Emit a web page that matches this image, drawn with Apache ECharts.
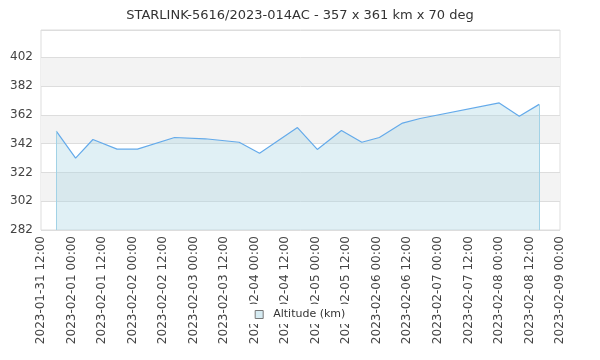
<!DOCTYPE html>
<html>
<head>
<meta charset="utf-8">
<script src="https://cdn.jsdelivr.net/npm/echarts@6/dist/echarts.min.js"></script>
<style>
  html, body { margin: 0; padding: 0; background: #fff; }
  #main { width: 600px; height: 360px; }
</style>
</head>
<body>
<div id="main"></div>
<script>
// readings taken off the plot (UTC)
var times = [
  '2023-01-31T18:00Z', '2023-02-01T01:36Z', '2023-02-01T08:24Z', '2023-02-01T17:54Z',
  '2023-02-02T01:54Z', '2023-02-02T16:30Z', '2023-02-03T04:30Z', '2023-02-03T17:54Z',
  '2023-02-04T01:54Z', '2023-02-04T16:48Z', '2023-02-05T00:36Z', '2023-02-05T10:06Z',
  '2023-02-05T18:06Z', '2023-02-06T01:00Z', '2023-02-06T10:06Z', '2023-02-06T17:00Z',
  '2023-02-08T00:06Z', '2023-02-08T08:00Z', '2023-02-08T15:48Z'
];
var altitude = [
  350.7, 332.0, 344.9, 338.2,
  338.2, 346.3, 345.4, 343.0,
  335.4, 353.2, 338.0, 351.2,
  343.0, 346.3, 356.3, 359.5,
  370.3, 361.1, 369.3
];
var xStart = '2023-01-31T12:00Z';
var xEnd = '2023-02-09T00:00Z';
var yMin = 282, yMax = 421, yStep = 20;
var seriesName = 'Altitude (km)';
var titleText = 'STARLINK-5616/2023-014AC - 357 x 361 km x 70 deg';

var HALF_DAY = 12 * 3600 * 1000;
var pts = times.map(function (t, i) { return [Date.parse(t), altitude[i]]; });
var last = pts.length - 1;

function pad(n) { return n < 10 ? '0' + n : '' + n; }
function fmt(v) {
  var d = new Date(v);
  return d.getUTCFullYear() + '-' + pad(d.getUTCMonth() + 1) + '-' + pad(d.getUTCDate()) +
    ' ' + pad(d.getUTCHours()) + ':' + pad(d.getUTCMinutes());
}

var chart = echarts.init(document.getElementById('main'));
var option = {
  animation: false,
  backgroundColor: '#fff',
  textStyle: { fontFamily: 'DejaVu Sans' },
  title: {
    text: titleText,
    left: 'center',
    top: 4,
    textStyle: { fontSize: 13, fontWeight: 'normal', color: '#333', fontFamily: 'DejaVu Sans' }
  },
  legend: {
    data: [seriesName],
    left: 'center',
    top: 304,
    padding: [5, 10, 4, 10],
    backgroundColor: '#fff',
    icon: 'rect',
    itemWidth: 8,
    itemHeight: 8,
    itemStyle: { color: '#d6ebf2', borderColor: '#777', borderWidth: 1 },
    textStyle: { fontSize: 11, color: '#333', padding: [0, 0, 0, 5] }
  },
  grid: {
    left: 41, right: 40, top: 30, bottom: 130,
    show: true, borderColor: '#ddd', borderWidth: 1
  },
  xAxis: {
    type: 'value',
    min: Date.parse(xStart),
    max: Date.parse(xEnd),
    interval: HALF_DAY,
    axisLine: { show: false },
    axisTick: { show: false },
    splitLine: { show: false },
    axisLabel: {
      rotate: 90,
      fontSize: 12,
      color: '#444',
      margin: 6,
      formatter: fmt
    }
  },
  yAxis: {
    type: 'value',
    min: yMin,
    max: yMax,
    interval: yStep,
    axisLine: { show: false },
    axisTick: { show: false },
    axisLabel: { fontSize: 12, color: '#444', margin: 8, showMaxLabel: false },
    splitLine: { lineStyle: { color: '#ddd' } },
    splitArea: { show: true, areaStyle: { color: ['rgba(255,255,255,0)', '#f3f3f3'] } }
  },
  series: [{
    name: seriesName,
    type: 'line',
    data: pts,
    symbol: 'none',
    lineStyle: { color: '#64aaea', width: 1.2 },
    itemStyle: { color: '#64aaea' },
    areaStyle: { color: 'rgba(168,212,228,0.5)', origin: 'start' },
    markLine: {
      silent: true,
      symbol: 'none',
      label: { show: false },
      lineStyle: { color: '#a2d2e6', width: 1, type: 'solid' },
      data: [
        [{ coord: [pts[0][0], yMin] }, { coord: [pts[0][0], pts[0][1]] }],
        [{ coord: [pts[last][0], yMin] }, { coord: [pts[last][0], pts[last][1]] }]
      ]
    }
  }]
};
chart.setOption(option);
</script>
</body>
</html>
